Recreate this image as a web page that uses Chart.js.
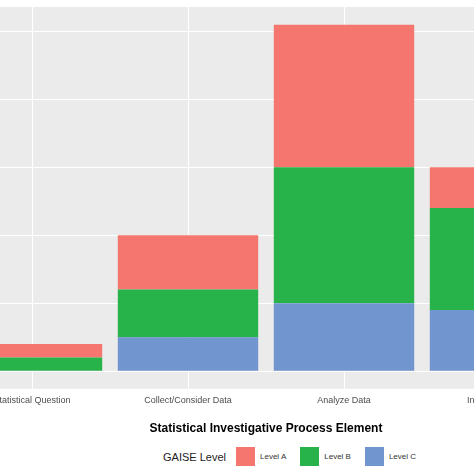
<!DOCTYPE html>
<html>
<head>
<meta charset="utf-8">
<script src="https://cdn.jsdelivr.net/npm/chart.js@4"></script>
<style>
  body { margin: 0; width: 474px; height: 474px; overflow: hidden; background: #fff; position: relative; font-family: "Liberation Sans", Arial, sans-serif; }
  #wrap { position: absolute; left: -46px; top: 0; width: 624px; height: 440px; }
  #legend { position: absolute; top: 447px; left: 163px; display: flex; align-items: center; font-size: 11px; color: #222; }
  .sw { width: 19px; height: 19px; display: inline-block; margin: 0 5px 0 0; }
  .lab { font-size: 8px; margin-right: 14px; color: #333; }
</style>
</head>
<body>
<div id="wrap"><canvas id="myChart"></canvas></div>
<div id="legend">
  <span style="margin-right:10px">GAISE Level</span>
  <span class="sw" style="background:#F4766E"></span><span class="lab">Level A</span>
  <span class="sw" style="background:#27B24A"></span><span class="lab">Level B</span>
  <span class="sw" style="background:#7095CF"></span><span class="lab">Level C</span>
</div>
<script>
// Data
const categories = ['Statistical Question', 'Collect/Consider Data', 'Analyze Data', 'Interpret Results'];
const levelA = [2, 8, 21, 6];
const levelB = [2, 7, 20, 15];
const levelC = [0, 5, 10, 9];
const yTicks = [0, 10, 20, 30, 40, 50];

// grey ggplot panel
const panelBg = {
    id: 'panelBg',
    beforeDraw(chart) {
        const a = chart.chartArea, ctx = chart.ctx;
        ctx.save();
        ctx.fillStyle = '#EBEBEB';
        ctx.fillRect(a.left, a.top, a.right - a.left, a.bottom - a.top);
        ctx.restore();
    }
};

const config = {
    type: 'bar',
    data: {
        labels: categories,
        datasets: [
            { label: 'Level C', data: levelC, backgroundColor: '#7095CF' },
            { label: 'Level B', data: levelB, backgroundColor: '#27B24A' },
            { label: 'Level A', data: levelA, backgroundColor: '#F4766E' }
        ]
    },
    options: {
        responsive: true,
        maintainAspectRatio: false,
        animation: false,
        categoryPercentage: 1,
        barPercentage: 0.9,
        layout: { padding: { top: 7, left: 0, right: 0, bottom: 0 } },
        plugins: { legend: { display: false }, tooltip: { enabled: false } },
        scales: {
            x: {
                stacked: true,
                grid: { color: '#FFFFFF', offset: false, drawTicks: false, lineWidth: 1 },
                border: { display: false },
                ticks: { color: '#4D4D4D', font: { size: 9, family: 'Liberation Sans' }, padding: 6, maxRotation: 0 },
                title: { display: true, text: 'Statistical Investigative Process Element', color: '#000', font: { size: 12, weight: 'bold', family: 'Liberation Sans' }, padding: { top: 10 } }
            },
            y: {
                stacked: true,
                min: -2.6,
                max: 53.6,
                afterBuildTicks: s => { s.ticks = yTicks.map(v => ({ value: v })); },
                afterFit: s => { s.width = 0; },
                grid: { color: '#FFFFFF', drawTicks: false },
                border: { display: false },
                ticks: { display: false }
            }
        }
    },
    plugins: [panelBg]
};

const myChart = new Chart(document.getElementById('myChart'), config);
</script>
</body>
</html>
